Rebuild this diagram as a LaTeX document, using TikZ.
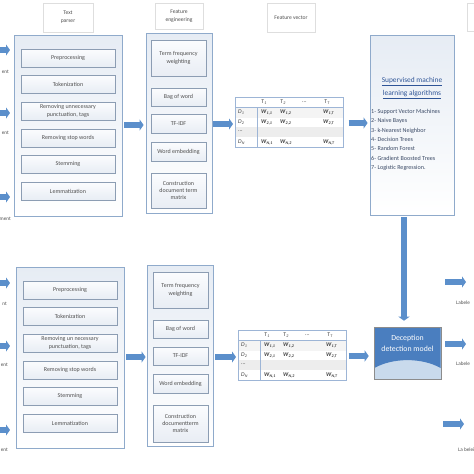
\documentclass[tikz,border=0pt]{standalone}
\usepackage{fontspec}
\setmainfont{Carlito}
\usetikzlibrary{arrows.meta}
\definecolor{arrowblue}{HTML}{5B8FCB}
\definecolor{boxblue}{HTML}{8FAACB}
\definecolor{boxtop}{HTML}{E6ECF4}
\definecolor{innerborder}{HTML}{8C9DB3}
\definecolor{innertop}{HTML}{FBFCFE}
\definecolor{innerbot}{HTML}{E8EDF4}
\definecolor{txtgray}{HTML}{505050}
\definecolor{titleblue}{HTML}{2F5597}
\definecolor{listblue}{HTML}{3B4A66}
\definecolor{decdark}{HTML}{4A7EBF}
\definecolor{declight}{HTML}{C9DAEC}
\definecolor{matline}{HTML}{9DB5D6}
\definecolor{matgray}{HTML}{EDEDED}
\newcommand{\wsub}[1]{\textbf{\textit{W}}\textsubscript{\textbf{\textit{#1}}}}
\newcommand{\featmat}[3]{%
  \node[matbox, minimum width=108, minimum height=50, anchor=north west] (#1) at (#2,#3) {};
  \fill[matgray!60] (#2+0.5,#3+10) rectangle (#2+107.5,#3+20.5);
  \fill[matgray] (#2+0.5,#3+30) rectangle (#2+107.5,#3+40);
  \draw[matline, line width=0.5pt] (#2,#3+10) -- (#2+108,#3+10);
  \draw[matline, line width=0.5pt] (#2+22,#3+10) -- (#2+22,#3+50);
  \node[matbox, minimum width=108, minimum height=50, anchor=north west, fill=none] at (#2,#3) {};
  \node[mattxt] (#1h1) at (#2+26,#3+5) {\textit{T}\textsubscript{\textit{1}}};
  \node[mattxt] (#1h2) at (#2+45,#3+5) {\textit{T}\textsubscript{\textit{2}}};
  \node[mattxt] (#1h3) at (#2+67,#3+5) {...};
  \node[mattxt] (#1h4) at (#2+89,#3+5) {\textit{T}\textsubscript{\textit{T}}};
  \node[mattxt] (#1r1) at (#2+3,#3+15.5) {\textit{D}\textsubscript{\textit{1}}};
  \node[mattxt] (#1r2) at (#2+3,#3+25) {\textit{D}\textsubscript{\textit{2}}};
  \node[mattxt] (#1r3) at (#2+3,#3+34) {...};
  \node[mattxt] (#1r4) at (#2+3,#3+45) {\textit{D}\textsubscript{\textit{N}}};
  \node[mattxt] (#1a) at (#2+26,#3+15.5) {\wsub{1,1}};
  \node[mattxt] (#1b) at (#2+45,#3+15.5) {\wsub{1,2}};
  \node[mattxt] (#1c) at (#2+88,#3+15.5) {\wsub{1,T}};
  \node[mattxt] (#1d) at (#2+26,#3+25) {\wsub{2,1}};
  \node[mattxt] (#1e) at (#2+45,#3+25) {\wsub{2,2}};
  \node[mattxt] (#1f) at (#2+88,#3+25) {\wsub{2,T}};
  \node[mattxt] (#1g) at (#2+26,#3+45) {\wsub{N,1}};
  \node[mattxt] (#1i) at (#2+45,#3+45) {\wsub{N,2}};
  \node[mattxt] (#1j) at (#2+88,#3+45) {\wsub{N,T}};
}
\tikzset{
  bigbox/.style={draw=boxblue, line width=0.8pt, top color=boxtop, bottom color=white, inner sep=0pt},
  inbox/.style={draw=innerborder, line width=0.6pt, top color=innertop, bottom color=innerbot,
    font=\fontsize{6}{7.2}\selectfont, text=txtgray, align=center, inner sep=1pt},
  labbox/.style={draw=black!13, line width=0.5pt, fill=white, font=\fontsize{5.6}{8}\selectfont,
    text=txtgray, align=center, inner sep=1pt},
  matbox/.style={draw=matline, line width=0.6pt, fill=white, inner sep=0pt},
  mattxt/.style={font=\fontsize{5.8}{6.5}\selectfont, text=black!75, anchor=west, inner sep=0pt},
  bigarrow/.style={draw=arrowblue, line width=6.5pt, -{Triangle[length=4pt,width=11pt]}},
  sidetxt/.style={font=\fontsize{5.2}{6}\selectfont, text=txtgray, inner sep=0pt},
}
\begin{document}
\begin{tikzpicture}[x=1pt,y=-1pt]
\useasboundingbox (0,0) rectangle (474,474);
\fill[white] (0,0) rectangle (474,474);

% header labels
\node[labbox, minimum width=50, minimum height=29] (lab1) at (68,17.5) {Text\\parser};
\node[labbox, minimum width=48, minimum height=26] (lab2) at (179,16) {Feature\\engineering};
\node[labbox, minimum width=48, minimum height=29] (lab3) at (291,17.5) {Feature vector};
\begin{scope}
\clip (0,0) rectangle (474,474);
\node[labbox, minimum width=48, minimum height=28, anchor=north west] (lab4) at (467,3) {};
\end{scope}

% ===== top row =====
\node[bigbox, minimum width=108, minimum height=181] (par1) at (68,125.5) {};
\node[inbox, minimum width=94, minimum height=18] (p1a) at (68,58) {Preprocessing};
\node[inbox, minimum width=94, minimum height=18] (p1b) at (68,84) {Tokenization};
\node[inbox, minimum width=94, minimum height=18] (p1c) at (68,111) {Removing unnecessary\\punctuation, tags};
\node[inbox, minimum width=94, minimum height=18] (p1d) at (68,138) {Removing stop words};
\node[inbox, minimum width=94, minimum height=18] (p1e) at (68,164) {Stemming};
\node[inbox, minimum width=94, minimum height=18] (p1f) at (68,191) {Lemmatization};

\node[bigbox, minimum width=66, minimum height=180] (fea1) at (179,123) {};
\node[inbox, minimum width=55, minimum height=36] (f1a) at (178.5,58) {Term frequency\\weighting};
\node[inbox, minimum width=55, minimum height=18] (f1b) at (178.5,97) {Bag of word};
\node[inbox, minimum width=55, minimum height=19] (f1c) at (178.5,123.5) {TF-IDF};
\node[inbox, minimum width=55, minimum height=19] (f1d) at (178.5,151.5) {Word embedding};
\node[inbox, minimum width=55, minimum height=35] (f1e) at (178.5,190.5) {Construction\\document term\\matrix};

\featmat{m1}{235}{97}

\node[bigbox, minimum width=84, minimum height=180] (sup) at (412,125) {};
\node[font=\fontsize{7.4}{12.5}\selectfont, text=titleblue, align=center, inner sep=0pt] (suptitle) at (412,88)
  {\underline{Supervised machine}\\\underline{learning algorithms}};
\node[font=\fontsize{6.1}{9.35}\selectfont, text=listblue, align=left, anchor=north west, inner sep=0pt] (suplist) at (371,109)
  {1- Support Vector Machines\\2- Naive Bayes\\3- k-Nearest Neighbor\\4- Decision Trees\\5- Random Forest\\6- Gradient Boosted Trees\\7- Logistic Regression.};

% ===== bottom row =====
\node[bigbox, minimum width=108, minimum height=181] (par2) at (70,357.5) {};
\node[inbox, minimum width=94, minimum height=18] (p2a) at (70,290) {Preprocessing};
\node[inbox, minimum width=94, minimum height=18] (p2b) at (70,316) {Tokenization};
\node[inbox, minimum width=94, minimum height=18] (p2c) at (70,343) {Removing un necessary\\punctuation, tags};
\node[inbox, minimum width=94, minimum height=18] (p2d) at (70,370) {Removing stop words};
\node[inbox, minimum width=94, minimum height=18] (p2e) at (70,396) {Stemming};
\node[inbox, minimum width=94, minimum height=18] (p2f) at (70,423) {Lemmatization};

\node[bigbox, minimum width=66, minimum height=181] (fea2) at (180,355.5) {};
\node[inbox, minimum width=55, minimum height=36] (f2a) at (180.5,290) {Term frequency\\weighting};
\node[inbox, minimum width=55, minimum height=18] (f2b) at (180.5,329) {Bag of word};
\node[inbox, minimum width=55, minimum height=18] (f2c) at (180.5,356) {TF-IDF};
\node[inbox, minimum width=55, minimum height=19] (f2d) at (180.5,383.5) {Word embedding};
\node[inbox, minimum width=55, minimum height=37] (f2e) at (180.5,423.5) {Construction\\documentterm\\matrix};

\featmat{m2}{238}{330}

% deception detection model
\node[draw=black!45, line width=0.6pt, fill=declight, minimum width=67, minimum height=52, inner sep=0pt] (dec) at (407.5,353) {};
\fill[decdark] (374.4,327.4) -- (440.6,327.4) -- (440.6,368) .. controls (422,357.5) and (393,357.5) .. (374.4,368) -- cycle;
\node[draw=black!45, line width=0.6pt, minimum width=67, minimum height=52, inner sep=0pt] (decb) at (407.5,353) {};
\node[font=\fontsize{7.8}{10.8}\selectfont, text=white, align=center, inner sep=0pt] (dectxt) at (407.5,343.5) {Deception\\detection model};

% ===== arrows =====
\draw[bigarrow, shorten <=2pt, shorten >=2pt] (par1.east |- 0,125) -- (fea1.west |- 0,125);
\draw[bigarrow, shorten <=1pt, shorten >=2pt] (fea1.east |- 0,124) -- (m1.west |- 0,124);
\draw[bigarrow, shorten <=5pt, shorten >=2pt] (m1.east |- 0,123) -- (sup.west |- 0,123);
\draw[bigarrow, shorten <=2pt, shorten >=1pt] (par2.east |- 0,357) -- (fea2.west |- 0,357);
\draw[bigarrow, shorten <=2pt, shorten >=2pt] (fea2.east |- 0,357) -- (m2.west |- 0,357);
\draw[bigarrow, shorten <=2pt, shorten >=5pt] (m2.east |- 0,356) -- (dec.west |- 0,356);
\coordinate (vtop) at (404,216);
\draw[bigarrow, shorten <=1pt, shorten >=6pt] (vtop) -- (vtop |- dec.north);

% left inputs
\foreach \yy/\nm in {50/a,113/b,197/c,283/d,346/e,430/f}{
  \coordinate (in\nm) at (-3,\yy);
  \coordinate (it\nm) at (10,\yy);
  \draw[bigarrow] (in\nm) -- (it\nm);
}
\node[sidetxt, anchor=east] (l1) at (9,72) {ent};
\node[sidetxt, anchor=east] (l2) at (9,133) {ent};
\node[sidetxt, anchor=east] (l3) at (11,219) {ment};
\node[sidetxt, anchor=east] (l4) at (7,304) {nt};
\node[sidetxt, anchor=east] (l5) at (8,365) {ent};
\node[sidetxt, anchor=east] (l6) at (8,450) {ent};

% right outputs
\foreach \yy/\xs/\nm in {282/445/a,344/445/b,424/443/c}{
  \coordinate (os\nm) at (\xs,\yy);
  \coordinate (oe\nm) at (\xs+21,\yy);
  \draw[bigarrow] (os\nm) -- (oe\nm);
}
\node[sidetxt, anchor=west] (r1) at (456,303) {Labele};
\node[sidetxt, anchor=west] (r2) at (456,364) {Labele};
\node[sidetxt, anchor=west] (r3) at (458,450) {La belei};
\end{tikzpicture}
\end{document}
